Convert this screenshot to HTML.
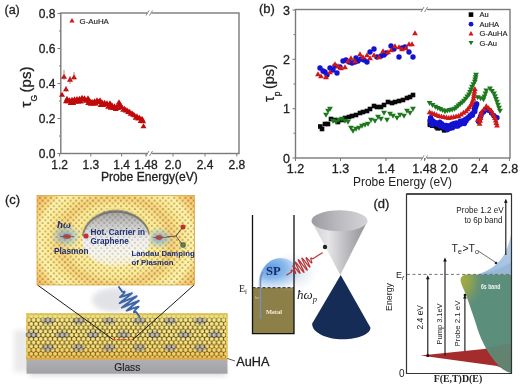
<!DOCTYPE html>
<html><head><meta charset="utf-8"><style>
html,body{margin:0;padding:0;background:#fff;width:520px;height:387px;overflow:hidden}
text.b{stroke:#222;stroke-width:0.3px}
text.s{stroke:#222;stroke-width:0.15px}
svg{display:block;font-family:"Liberation Sans", sans-serif;filter:blur(0.35px)}
</style></head><body>
<svg width="520" height="387" viewBox="0 0 520 387">
<defs>
<pattern id="slab" x="26.5" y="318.2" width="4.75" height="7.5" patternUnits="userSpaceOnUse">
<rect width="4.75" height="7.5" fill="#56420f"/>
<circle cx="2.375" cy="1.875" r="1.98" fill="#f8e88a"/><circle cx="0" cy="5.625" r="1.98" fill="#f8e88a"/><circle cx="4.75" cy="5.625" r="1.98" fill="#f8e88a"/>
</pattern>
<pattern id="slabg" x="26.5" y="318.2" width="4.75" height="7.5" patternUnits="userSpaceOnUse">
<rect width="4.75" height="7.5" fill="#3a3018"/>
<circle cx="2.375" cy="1.875" r="1.98" fill="#a4a8c4"/><circle cx="0" cy="5.625" r="1.98" fill="#a4a8c4"/><circle cx="4.75" cy="5.625" r="1.98" fill="#a4a8c4"/>
</pattern>
<linearGradient id="slabshade" x1="0" y1="0" x2="0" y2="1"><stop offset="0" stop-color="#f0f0a0" stop-opacity="0.3"/><stop offset="0.45" stop-color="#f0d060" stop-opacity="0"/><stop offset="1" stop-color="#e08a10" stop-opacity="0.4"/></linearGradient>
<linearGradient id="glassg" x1="0" y1="0" x2="0" y2="1"><stop offset="0" stop-color="#b0b0b4"/><stop offset="1" stop-color="#a2a2a6"/></linearGradient>
<filter id="blur2" x="-50%" y="-50%" width="200%" height="200%"><feGaussianBlur stdDeviation="2.5"/></filter>
<filter id="blur05" x="-50%" y="-50%" width="200%" height="200%"><feGaussianBlur stdDeviation="0.6"/></filter>
<filter id="blur1" x="-50%" y="-50%" width="200%" height="200%"><feGaussianBlur stdDeviation="1.2"/></filter>
<pattern id="hexi" x="37" y="195" width="5.6" height="5.6" patternUnits="userSpaceOnUse">
<g fill="#fffbd0" fill-opacity="0.35"><circle cx="2.8" cy="0" r="1.7"/><circle cx="0" cy="2.8" r="1.7"/><circle cx="5.6" cy="2.8" r="1.7"/><circle cx="2.8" cy="5.6" r="1.7"/></g>
<g fill="#7a5818" fill-opacity="0.75"><circle cx="0" cy="0" r="0.8"/><circle cx="5.6" cy="0" r="0.8"/><circle cx="0" cy="5.6" r="0.8"/><circle cx="5.6" cy="5.6" r="0.8"/><circle cx="2.8" cy="2.8" r="0.8"/></g>
</pattern>
<radialGradient id="rings" cx="116" cy="241" r="100" gradientUnits="userSpaceOnUse" gradientTransform="translate(116 241) scale(1 0.79) translate(-116 -241)">
<stop offset="0.3" stop-color="#fcec98"/>
<stop offset="0.45" stop-color="#f9e488"/>
<stop offset="0.56" stop-color="#f0c462"/>
<stop offset="0.66" stop-color="#f8e080"/>
<stop offset="0.77" stop-color="#fcf0a0"/>
<stop offset="0.84" stop-color="#f4cc68"/>
<stop offset="0.92" stop-color="#ecae4e"/>
<stop offset="1" stop-color="#e8a446"/>
</radialGradient>
<linearGradient id="hole" x1="0" y1="0" x2="0" y2="1">
<stop offset="0" stop-color="#8e8e96"/><stop offset="0.28" stop-color="#c2c4ca"/><stop offset="0.55" stop-color="#eef0f4"/><stop offset="0.82" stop-color="#f6f6f2"/><stop offset="1" stop-color="#f8f0c0"/>
</linearGradient>
<radialGradient id="glow"><stop offset="0" stop-color="#5a9ad8" stop-opacity="0.85"/><stop offset="1" stop-color="#8ac0e8" stop-opacity="0"/></radialGradient>
<radialGradient id="shadow" cx="0.5" cy="0.5" r="0.5"><stop offset="0" stop-color="#888" stop-opacity="0.55"/><stop offset="1" stop-color="#aaa" stop-opacity="0"/></radialGradient>
<linearGradient id="lshadow" x1="1" y1="0" x2="0" y2="0"><stop offset="0" stop-color="#b8b8b8"/><stop offset="1" stop-color="#fff" stop-opacity="0"/></linearGradient>
<clipPath id="insetclip"><rect x="37" y="195.5" width="157.5" height="89.5"/></clipPath>
<linearGradient id="cone1" x1="0" y1="0" x2="1" y2="0">
<stop offset="0" stop-color="#cfcfd3"/><stop offset="0.3" stop-color="#e6e6e8"/><stop offset="0.65" stop-color="#b8b8bc"/><stop offset="1" stop-color="#8c8c92"/></linearGradient>
<linearGradient id="cone1top" x1="0" y1="0" x2="1" y2="0">
<stop offset="0" stop-color="#9c9ca0"/><stop offset="0.5" stop-color="#bcbcc0"/><stop offset="1" stop-color="#d4d4d8"/></linearGradient>
<radialGradient id="spg" cx="0.3" cy="0.35" r="0.75"><stop offset="0" stop-color="#5a98e4"/><stop offset="0.45" stop-color="#8cbcec"/><stop offset="0.8" stop-color="#c4daf2" stop-opacity="0.7"/><stop offset="1" stop-color="#e0ecf8" stop-opacity="0"/></radialGradient>
<radialGradient id="spglow" cx="0.5" cy="0.5" r="0.5"><stop offset="0" stop-color="#b8c8dc" stop-opacity="0.7"/><stop offset="1" stop-color="#d0dcea" stop-opacity="0"/></radialGradient>
<linearGradient id="slabtop" x1="0" y1="0" x2="0" y2="1"><stop offset="0" stop-color="#f6e89a"/><stop offset="1" stop-color="#e8c860"/></linearGradient>
<linearGradient id="wshadow" x1="0" y1="0" x2="0" y2="1"><stop offset="0" stop-color="#ccd0d8" stop-opacity="0"/><stop offset="0.5" stop-color="#c6cad2" stop-opacity="0.8"/><stop offset="1" stop-color="#ccd0d8" stop-opacity="0"/></linearGradient>
<radialGradient id="gband" gradientUnits="userSpaceOnUse" cx="462" cy="280" r="30" gradientTransform="translate(462 280) scale(0.7 1) translate(-462 -280)"><stop offset="0" stop-color="#a4ac44"/><stop offset="0.35" stop-color="#94a44c"/><stop offset="0.75" stop-color="#6a9470"/><stop offset="1" stop-color="#5c8e7c"/></radialGradient>
<linearGradient id="bband" x1="0" y1="1" x2="0.3" y2="0"><stop offset="0" stop-color="#9cbce0"/><stop offset="1" stop-color="#b4cde8"/></linearGradient>
</defs>
<rect width="520" height="387" fill="#fff"/>
<text x="4.5" y="14" font-size="12.5" fill="#222" class="b">(a)</text>
<rect x="60.8" y="13" width="178.2" height="140.5" fill="none" stroke="#7a7a7a" stroke-width="1.4"/>
<rect x="147.5" y="11" width="4" height="4" fill="#fff"/>
<path d="M146,15.5L149,10.5M149.5,15.5L152.5,10.5" stroke="#7a7a7a" stroke-width="0.9"/>
<rect x="147.5" y="151.5" width="4" height="4" fill="#fff"/>
<path d="M146,156.0L149,151.0M149.5,156.0L152.5,151.0" stroke="#7a7a7a" stroke-width="0.9"/>
<text x="55.5" y="157.8" font-size="12" text-anchor="end" fill="#222" class="b">0.0</text>
<path d="M57.5,153.5H60.5" stroke="#7a7a7a" stroke-width="1"/>
<text x="55.5" y="122.8" font-size="12" text-anchor="end" fill="#222" class="b">0.2</text>
<path d="M57.5,118.5H60.5" stroke="#7a7a7a" stroke-width="1"/>
<text x="55.5" y="87.8" font-size="12" text-anchor="end" fill="#222" class="b">0.4</text>
<path d="M57.5,83.5H60.5" stroke="#7a7a7a" stroke-width="1"/>
<text x="55.5" y="52.8" font-size="12" text-anchor="end" fill="#222" class="b">0.6</text>
<path d="M57.5,48.5H60.5" stroke="#7a7a7a" stroke-width="1"/>
<text x="55.5" y="17.8" font-size="12" text-anchor="end" fill="#222" class="b">0.8</text>
<path d="M57.5,13.5H60.5" stroke="#7a7a7a" stroke-width="1"/>
<path d="M59,136H60.5" stroke="#7a7a7a" stroke-width="1"/>
<path d="M59,101H60.5" stroke="#7a7a7a" stroke-width="1"/>
<path d="M59,66H60.5" stroke="#7a7a7a" stroke-width="1"/>
<path d="M59,31H60.5" stroke="#7a7a7a" stroke-width="1"/>
<text x="59.6" y="168.6" font-size="12" text-anchor="middle" fill="#222" class="b">1.2</text>
<path d="M59.6,153.5V156.5" stroke="#7a7a7a" stroke-width="1"/>
<text x="90.8" y="168.6" font-size="12" text-anchor="middle" fill="#222" class="b">1.3</text>
<path d="M90.8,153.5V156.5" stroke="#7a7a7a" stroke-width="1"/>
<text x="121.6" y="168.6" font-size="12" text-anchor="middle" fill="#222" class="b">1.4</text>
<path d="M121.6,153.5V156.5" stroke="#7a7a7a" stroke-width="1"/>
<text x="146" y="168.6" font-size="12" text-anchor="middle" fill="#222" class="b">1.48</text>
<path d="M146,153.5V156.5" stroke="#7a7a7a" stroke-width="1"/>
<text x="173" y="168.6" font-size="12" text-anchor="middle" fill="#222" class="b">2.0</text>
<path d="M173,153.5V156.5" stroke="#7a7a7a" stroke-width="1"/>
<text x="205" y="168.6" font-size="12" text-anchor="middle" fill="#222" class="b">2.4</text>
<path d="M205,153.5V156.5" stroke="#7a7a7a" stroke-width="1"/>
<text x="236.8" y="168.6" font-size="12" text-anchor="middle" fill="#222" class="b">2.8</text>
<path d="M236.8,153.5V156.5" stroke="#7a7a7a" stroke-width="1"/>
<text x="101" y="181" font-size="12.1" fill="#222" class="b">Probe Energy(eV)</text>
<text transform="translate(31,107.5) rotate(-90)" font-size="15" fill="#222" class="b">τ<tspan font-size="8.5" dy="6">G</tspan><tspan dy="-6" dx="2.5">(ps)</tspan></text>
<path d="M69.4,22.4L74.6,22.4L72.0,18.0Z" fill="#d01818"/>
<text x="79.5" y="23.5" font-size="7.9" fill="#222" class="s">G-AuHA</text>
<path d="M61.0,78.8L67.0,78.8L64.0,73.7Z" fill="#c00a0a"/>
<path d="M67.0,81.7L73.0,81.7L70.0,76.6Z" fill="#c00a0a"/>
<path d="M71.0,79.2L77.0,79.2L74.0,74.2Z" fill="#c00a0a"/>
<path d="M63.0,91.2L69.0,91.2L66.0,86.2Z" fill="#c00a0a"/>
<path d="M59.0,96.8L65.0,96.8L62.0,91.7Z" fill="#c00a0a"/>
<path d="M64.0,100.8L70.0,100.8L67.0,95.7Z" fill="#c00a0a"/>
<path d="M66.5,102.2L72.5,102.2L69.5,97.2Z" fill="#c00a0a"/>
<path d="M69.0,101.8L75.0,101.8L72.0,96.7Z" fill="#c00a0a"/>
<path d="M71.5,101.2L77.5,101.2L74.5,96.2Z" fill="#c00a0a"/>
<path d="M74.0,101.0L80.0,101.0L77.0,95.9Z" fill="#c00a0a"/>
<path d="M76.5,100.8L82.5,100.8L79.5,95.7Z" fill="#c00a0a"/>
<path d="M79.0,99.8L85.0,99.8L82.0,94.7Z" fill="#c00a0a"/>
<path d="M81.5,100.2L87.5,100.2L84.5,95.2Z" fill="#c00a0a"/>
<path d="M84.0,102.2L90.0,102.2L87.0,97.2Z" fill="#c00a0a"/>
<path d="M86.5,102.8L92.5,102.8L89.5,97.7Z" fill="#c00a0a"/>
<path d="M89.0,103.8L95.0,103.8L92.0,98.7Z" fill="#c00a0a"/>
<path d="M91.5,103.2L97.5,103.2L94.5,98.2Z" fill="#c00a0a"/>
<path d="M94.0,102.2L100.0,102.2L97.0,97.2Z" fill="#c00a0a"/>
<path d="M96.5,103.8L102.5,103.8L99.5,98.7Z" fill="#c00a0a"/>
<path d="M99.0,104.2L105.0,104.2L102.0,99.2Z" fill="#c00a0a"/>
<path d="M101.5,104.8L107.5,104.8L104.5,99.7Z" fill="#c00a0a"/>
<path d="M104.0,105.2L110.0,105.2L107.0,100.2Z" fill="#c00a0a"/>
<path d="M106.5,106.2L112.5,106.2L109.5,101.2Z" fill="#c00a0a"/>
<path d="M109.0,107.2L115.0,107.2L112.0,102.2Z" fill="#c00a0a"/>
<path d="M111.5,108.2L117.5,108.2L114.5,103.2Z" fill="#c00a0a"/>
<path d="M114.0,108.2L120.0,108.2L117.0,103.2Z" fill="#c00a0a"/>
<path d="M116.5,106.2L122.5,106.2L119.5,101.2Z" fill="#c00a0a"/>
<path d="M119.0,109.2L125.0,109.2L122.0,104.2Z" fill="#c00a0a"/>
<path d="M121.5,110.8L127.5,110.8L124.5,105.7Z" fill="#c00a0a"/>
<path d="M124.0,112.2L130.0,112.2L127.0,107.2Z" fill="#c00a0a"/>
<path d="M126.5,113.8L132.5,113.8L129.5,108.7Z" fill="#c00a0a"/>
<path d="M129.0,115.2L135.0,115.2L132.0,110.2Z" fill="#c00a0a"/>
<path d="M131.5,117.2L137.5,117.2L134.5,112.2Z" fill="#c00a0a"/>
<path d="M134.0,118.2L140.0,118.2L137.0,113.2Z" fill="#c00a0a"/>
<path d="M136.5,119.8L142.5,119.8L139.5,114.7Z" fill="#c00a0a"/>
<path d="M139.0,120.8L145.0,120.8L142.0,115.7Z" fill="#c00a0a"/>
<path d="M77.0,102.8L83.0,102.8L80.0,97.7Z" fill="#c00a0a"/>
<path d="M92.0,105.2L98.0,105.2L95.0,100.2Z" fill="#c00a0a"/>
<path d="M107.0,105.2L113.0,105.2L110.0,100.2Z" fill="#c00a0a"/>
<path d="M116.0,104.2L122.0,104.2L119.0,99.2Z" fill="#c00a0a"/>
<path d="M140.5,128.2L146.5,128.2L143.5,123.2Z" fill="#c00a0a"/>
<path d="M63.0,103.2L69.0,103.2L66.0,98.2Z" fill="#c00a0a"/>
<path d="M85.0,100.2L91.0,100.2L88.0,95.2Z" fill="#c00a0a"/>
<path d="M97.0,102.2L103.0,102.2L100.0,97.2Z" fill="#c00a0a"/>
<path d="M65.2,103.2L71.2,103.2L68.2,98.1Z" fill="#c00a0a"/>
<path d="M67.7,104.9L73.7,104.9L70.7,99.8Z" fill="#c00a0a"/>
<path d="M70.2,105.1L76.2,105.1L73.2,100.0Z" fill="#c00a0a"/>
<path d="M72.7,103.7L78.7,103.7L75.7,98.6Z" fill="#c00a0a"/>
<path d="M75.2,103.5L81.2,103.5L78.2,98.4Z" fill="#c00a0a"/>
<path d="M77.7,103.4L83.7,103.4L80.7,98.3Z" fill="#c00a0a"/>
<path d="M80.2,101.6L86.2,101.6L83.2,96.5Z" fill="#c00a0a"/>
<path d="M82.7,102.8L88.7,102.8L85.7,97.7Z" fill="#c00a0a"/>
<path d="M85.2,105.0L91.2,105.0L88.2,99.9Z" fill="#c00a0a"/>
<path d="M87.7,105.8L93.7,105.8L90.7,100.7Z" fill="#c00a0a"/>
<path d="M90.2,105.4L96.2,105.4L93.2,100.3Z" fill="#c00a0a"/>
<path d="M92.7,105.4L98.7,105.4L95.7,100.3Z" fill="#c00a0a"/>
<path d="M95.2,103.9L101.2,103.9L98.2,98.8Z" fill="#c00a0a"/>
<path d="M97.7,106.9L103.7,106.9L100.7,101.8Z" fill="#c00a0a"/>
<path d="M100.2,107.1L106.2,107.1L103.2,102.0Z" fill="#c00a0a"/>
<path d="M102.7,106.3L108.7,106.3L105.7,101.2Z" fill="#c00a0a"/>
<path d="M105.2,108.7L111.2,108.7L108.2,103.6Z" fill="#c00a0a"/>
<path d="M107.7,109.7L113.7,109.7L110.7,104.6Z" fill="#c00a0a"/>
<path d="M110.2,110.1L116.2,110.1L113.2,105.0Z" fill="#c00a0a"/>
<path d="M112.7,111.0L118.7,111.0L115.7,105.9Z" fill="#c00a0a"/>
<path d="M115.2,110.1L121.2,110.1L118.2,105.0Z" fill="#c00a0a"/>
<path d="M117.7,107.8L123.7,107.8L120.7,102.7Z" fill="#c00a0a"/>
<path d="M120.2,111.8L126.2,111.8L123.2,106.7Z" fill="#c00a0a"/>
<path d="M122.7,112.4L128.7,112.4L125.7,107.3Z" fill="#c00a0a"/>
<path d="M125.2,114.1L131.2,114.1L128.2,109.0Z" fill="#c00a0a"/>
<path d="M127.7,115.7L133.7,115.7L130.7,110.6Z" fill="#c00a0a"/>
<path d="M130.2,116.8L136.2,116.8L133.2,111.7Z" fill="#c00a0a"/>
<path d="M132.7,119.7L138.7,119.7L135.7,114.6Z" fill="#c00a0a"/>
<path d="M135.2,120.6L141.2,120.6L138.2,115.5Z" fill="#c00a0a"/>
<path d="M137.7,122.9L143.7,122.9L140.7,117.8Z" fill="#c00a0a"/>
<path d="M140.2,123.3L146.2,123.3L143.2,118.2Z" fill="#c00a0a"/>
<path d="M64,70V80" stroke="#c04040" stroke-width="0.7"/>
<path d="M74,72V80" stroke="#c04040" stroke-width="0.7"/>
<path d="M70,76V84" stroke="#c04040" stroke-width="0.7"/>
<path d="M66,86V92" stroke="#c04040" stroke-width="0.7"/>
<text x="259" y="12.5" font-size="13" fill="#222" class="b">(b)</text>
<rect x="295.5" y="9.5" width="214.5" height="148.5" fill="none" stroke="#7a7a7a" stroke-width="1.4"/>
<rect x="422.5" y="7.5" width="4.5" height="4" fill="#fff"/>
<path d="M421,12.0L424,7.0M424.5,12.0L427.5,7.0" stroke="#7a7a7a" stroke-width="0.9"/>
<rect x="422.5" y="156" width="4.5" height="4" fill="#fff"/>
<path d="M421,160.5L424,155.5M424.5,160.5L427.5,155.5" stroke="#7a7a7a" stroke-width="0.9"/>
<text x="290" y="162.5" font-size="12.5" text-anchor="end" fill="#222" class="b">0</text>
<path d="M292.5,158H295.5" stroke="#7a7a7a" stroke-width="1"/>
<text x="290" y="113.2" font-size="12.5" text-anchor="end" fill="#222" class="b">1</text>
<path d="M292.5,108.7H295.5" stroke="#7a7a7a" stroke-width="1"/>
<text x="290" y="63.8" font-size="12.5" text-anchor="end" fill="#222" class="b">2</text>
<path d="M292.5,59.3H295.5" stroke="#7a7a7a" stroke-width="1"/>
<text x="290" y="14.5" font-size="12.5" text-anchor="end" fill="#222" class="b">3</text>
<path d="M292.5,10H295.5" stroke="#7a7a7a" stroke-width="1"/>
<path d="M293.5,133.3H295.5" stroke="#7a7a7a" stroke-width="1"/>
<path d="M293.5,84H295.5" stroke="#7a7a7a" stroke-width="1"/>
<path d="M293.5,34.6H295.5" stroke="#7a7a7a" stroke-width="1"/>
<text x="295.5" y="173" font-size="12.5" text-anchor="middle" fill="#222" class="b">1.2</text>
<path d="M295.5,158V161" stroke="#7a7a7a" stroke-width="1"/>
<text x="340.5" y="173" font-size="12.5" text-anchor="middle" fill="#222" class="b">1.3</text>
<path d="M340.5,158V161" stroke="#7a7a7a" stroke-width="1"/>
<text x="386" y="173" font-size="12.5" text-anchor="middle" fill="#222" class="b">1.4</text>
<path d="M386,158V161" stroke="#7a7a7a" stroke-width="1"/>
<text x="424.5" y="173" font-size="12.5" text-anchor="middle" fill="#222" class="b">1.48</text>
<path d="M424.5,158V161" stroke="#7a7a7a" stroke-width="1"/>
<text x="449" y="173" font-size="12.5" text-anchor="middle" fill="#222" class="b">2.0</text>
<path d="M449,158V161" stroke="#7a7a7a" stroke-width="1"/>
<text x="479.5" y="173" font-size="12.5" text-anchor="middle" fill="#222" class="b">2.4</text>
<path d="M479.5,158V161" stroke="#7a7a7a" stroke-width="1"/>
<text x="509.5" y="173" font-size="12.5" text-anchor="middle" fill="#222" class="b">2.8</text>
<path d="M509.5,158V161" stroke="#7a7a7a" stroke-width="1"/>
<text x="353" y="186" font-size="12.9" fill="#222" textLength="99" lengthAdjust="spacingAndGlyphs">Probe Energy (eV)</text>
<text transform="translate(273.7,102) rotate(-90)" font-size="14.5" fill="#222" class="b">τ<tspan font-size="8.5" dy="6">p</tspan><tspan dy="-6" dx="2.5">(ps)</tspan></text>
<rect x="468.7" y="12.3" width="4.6" height="4.6" fill="#000"/>
<circle cx="471.0" cy="24.2" r="2.4" fill="#1414d2"/>
<path d="M468.5,35.4L473.5,35.4L471.0,31.1Z" fill="#d01818"/>
<path d="M468.5,41.0L473.5,41.0L471.0,45.3Z" fill="#1a7a1a"/>
<text x="479.5" y="17.4" font-size="7.5" fill="#222" class="s">Au</text>
<text x="479.5" y="27.0" font-size="7.5" fill="#222" class="s">AuHA</text>
<text x="479.5" y="36.3" font-size="7.5" fill="#222" class="s">G-AuHA</text>
<text x="479.5" y="45.699999999999996" font-size="7.5" fill="#222" class="s">G-Au</text>
<rect x="427.7" y="121.7" width="4.6" height="4.6" fill="#080808"/>
<rect x="430.7" y="122.7" width="4.6" height="4.6" fill="#080808"/>
<rect x="433.7" y="123.7" width="4.6" height="4.6" fill="#080808"/>
<rect x="436.4" y="124.7" width="4.6" height="4.6" fill="#080808"/>
<rect x="439.0" y="125.7" width="4.6" height="4.6" fill="#080808"/>
<rect x="441.7" y="126.7" width="4.6" height="4.6" fill="#080808"/>
<rect x="444.4" y="126.4" width="4.6" height="4.6" fill="#080808"/>
<rect x="447.0" y="126.0" width="4.6" height="4.6" fill="#080808"/>
<rect x="449.7" y="125.7" width="4.6" height="4.6" fill="#080808"/>
<rect x="427.7" y="122.5" width="4.6" height="4.6" fill="#080808"/>
<rect x="429.9" y="123.4" width="4.6" height="4.6" fill="#080808"/>
<rect x="434.3" y="124.8" width="4.6" height="4.6" fill="#080808"/>
<rect x="435.4" y="126.0" width="4.6" height="4.6" fill="#080808"/>
<rect x="438.2" y="125.2" width="4.6" height="4.6" fill="#080808"/>
<rect x="441.9" y="128.0" width="4.6" height="4.6" fill="#080808"/>
<rect x="444.0" y="127.6" width="4.6" height="4.6" fill="#080808"/>
<rect x="447.1" y="125.5" width="4.6" height="4.6" fill="#080808"/>
<rect x="449.3" y="124.7" width="4.6" height="4.6" fill="#080808"/>
<rect x="318.0" y="124.2" width="4.6" height="4.6" fill="#080808"/>
<rect x="319.7" y="126.7" width="4.6" height="4.6" fill="#080808"/>
<rect x="322.7" y="121.7" width="4.6" height="4.6" fill="#080808"/>
<rect x="325.7" y="121.7" width="4.6" height="4.6" fill="#080808"/>
<rect x="328.7" y="116.7" width="4.6" height="4.6" fill="#080808"/>
<rect x="332.7" y="117.7" width="4.6" height="4.6" fill="#080808"/>
<rect x="335.7" y="119.7" width="4.6" height="4.6" fill="#080808"/>
<rect x="339.7" y="117.7" width="4.6" height="4.6" fill="#080808"/>
<rect x="342.7" y="115.7" width="4.6" height="4.6" fill="#080808"/>
<rect x="346.7" y="114.7" width="4.6" height="4.6" fill="#080808"/>
<rect x="349.7" y="113.7" width="4.6" height="4.6" fill="#080808"/>
<rect x="353.7" y="112.7" width="4.6" height="4.6" fill="#080808"/>
<rect x="357.7" y="110.7" width="4.6" height="4.6" fill="#080808"/>
<rect x="360.7" y="109.7" width="4.6" height="4.6" fill="#080808"/>
<rect x="364.7" y="108.7" width="4.6" height="4.6" fill="#080808"/>
<rect x="367.7" y="106.7" width="4.6" height="4.6" fill="#080808"/>
<rect x="371.7" y="103.7" width="4.6" height="4.6" fill="#080808"/>
<rect x="374.7" y="104.7" width="4.6" height="4.6" fill="#080808"/>
<rect x="378.7" y="104.7" width="4.6" height="4.6" fill="#080808"/>
<rect x="381.7" y="102.7" width="4.6" height="4.6" fill="#080808"/>
<rect x="385.7" y="99.7" width="4.6" height="4.6" fill="#080808"/>
<rect x="389.7" y="100.7" width="4.6" height="4.6" fill="#080808"/>
<rect x="392.7" y="99.7" width="4.6" height="4.6" fill="#080808"/>
<rect x="396.7" y="98.7" width="4.6" height="4.6" fill="#080808"/>
<rect x="400.7" y="97.7" width="4.6" height="4.6" fill="#080808"/>
<rect x="404.7" y="95.7" width="4.6" height="4.6" fill="#080808"/>
<rect x="407.7" y="94.7" width="4.6" height="4.6" fill="#080808"/>
<rect x="410.7" y="92.7" width="4.6" height="4.6" fill="#080808"/>
<circle cx="430.6" cy="117.7" r="2.7" fill="#1212d0"/>
<circle cx="431.1" cy="120.6" r="2.7" fill="#1212d0"/>
<circle cx="431.5" cy="123.5" r="2.7" fill="#1212d0"/>
<circle cx="434.0" cy="123.5" r="2.7" fill="#1212d0"/>
<circle cx="436.5" cy="123.5" r="2.7" fill="#1212d0"/>
<circle cx="439.0" cy="123.5" r="2.7" fill="#1212d0"/>
<circle cx="441.7" cy="124.4" r="2.7" fill="#1212d0"/>
<circle cx="444.3" cy="125.4" r="2.7" fill="#1212d0"/>
<circle cx="447.0" cy="126.3" r="2.7" fill="#1212d0"/>
<circle cx="449.3" cy="125.7" r="2.7" fill="#1212d0"/>
<circle cx="451.6" cy="125.2" r="2.7" fill="#1212d0"/>
<circle cx="453.9" cy="124.6" r="2.7" fill="#1212d0"/>
<circle cx="456.2" cy="124.1" r="2.7" fill="#1212d0"/>
<circle cx="458.5" cy="123.5" r="2.7" fill="#1212d0"/>
<circle cx="460.9" cy="122.0" r="2.7" fill="#1212d0"/>
<circle cx="463.2" cy="120.6" r="2.7" fill="#1212d0"/>
<circle cx="465.6" cy="119.2" r="2.7" fill="#1212d0"/>
<circle cx="468.0" cy="117.7" r="2.7" fill="#1212d0"/>
<circle cx="470.0" cy="115.8" r="2.7" fill="#1212d0"/>
<circle cx="472.0" cy="113.9" r="2.7" fill="#1212d0"/>
<circle cx="474.0" cy="112.0" r="2.7" fill="#1212d0"/>
<circle cx="474.9" cy="109.3" r="2.7" fill="#1212d0"/>
<circle cx="475.8" cy="106.7" r="2.7" fill="#1212d0"/>
<circle cx="476.7" cy="104.0" r="2.7" fill="#1212d0"/>
<circle cx="431.0" cy="120.0" r="2.7" fill="#1212d0"/>
<circle cx="433.2" cy="121.5" r="2.7" fill="#1212d0"/>
<circle cx="435.5" cy="123.0" r="2.7" fill="#1212d0"/>
<circle cx="437.8" cy="124.5" r="2.7" fill="#1212d0"/>
<circle cx="440.0" cy="126.0" r="2.7" fill="#1212d0"/>
<circle cx="443.5" cy="127.2" r="2.7" fill="#1212d0"/>
<circle cx="447.0" cy="128.5" r="2.7" fill="#1212d0"/>
<circle cx="450.0" cy="127.7" r="2.7" fill="#1212d0"/>
<circle cx="453.0" cy="126.8" r="2.7" fill="#1212d0"/>
<circle cx="456.0" cy="126.0" r="2.7" fill="#1212d0"/>
<circle cx="458.5" cy="124.8" r="2.7" fill="#1212d0"/>
<circle cx="461.0" cy="123.5" r="2.7" fill="#1212d0"/>
<circle cx="463.5" cy="122.2" r="2.7" fill="#1212d0"/>
<circle cx="466.0" cy="121.0" r="2.7" fill="#1212d0"/>
<circle cx="430.8" cy="118.4" r="2.7" fill="#1212d0"/>
<circle cx="431.6" cy="121.9" r="2.7" fill="#1212d0"/>
<circle cx="432.0" cy="124.8" r="2.7" fill="#1212d0"/>
<circle cx="433.1" cy="123.4" r="2.7" fill="#1212d0"/>
<circle cx="437.4" cy="123.9" r="2.7" fill="#1212d0"/>
<circle cx="439.8" cy="122.3" r="2.7" fill="#1212d0"/>
<circle cx="441.6" cy="123.7" r="2.7" fill="#1212d0"/>
<circle cx="444.4" cy="125.6" r="2.7" fill="#1212d0"/>
<circle cx="446.0" cy="125.5" r="2.7" fill="#1212d0"/>
<circle cx="448.9" cy="127.0" r="2.7" fill="#1212d0"/>
<circle cx="452.1" cy="124.2" r="2.7" fill="#1212d0"/>
<circle cx="454.5" cy="123.5" r="2.7" fill="#1212d0"/>
<circle cx="456.4" cy="122.9" r="2.7" fill="#1212d0"/>
<circle cx="457.5" cy="124.6" r="2.7" fill="#1212d0"/>
<circle cx="460.3" cy="121.2" r="2.7" fill="#1212d0"/>
<circle cx="464.2" cy="121.7" r="2.7" fill="#1212d0"/>
<circle cx="465.2" cy="120.5" r="2.7" fill="#1212d0"/>
<circle cx="468.1" cy="118.2" r="2.7" fill="#1212d0"/>
<circle cx="469.4" cy="117.1" r="2.7" fill="#1212d0"/>
<circle cx="472.4" cy="115.3" r="2.7" fill="#1212d0"/>
<circle cx="474.8" cy="111.4" r="2.7" fill="#1212d0"/>
<circle cx="474.6" cy="108.3" r="2.7" fill="#1212d0"/>
<circle cx="475.1" cy="105.4" r="2.7" fill="#1212d0"/>
<circle cx="476.3" cy="104.3" r="2.7" fill="#1212d0"/>
<circle cx="430.0" cy="120.5" r="2.7" fill="#1212d0"/>
<circle cx="432.9" cy="120.9" r="2.7" fill="#1212d0"/>
<circle cx="436.1" cy="122.9" r="2.7" fill="#1212d0"/>
<circle cx="437.4" cy="124.4" r="2.7" fill="#1212d0"/>
<circle cx="440.4" cy="124.7" r="2.7" fill="#1212d0"/>
<circle cx="444.5" cy="125.8" r="2.7" fill="#1212d0"/>
<circle cx="447.5" cy="129.5" r="2.7" fill="#1212d0"/>
<circle cx="449.0" cy="128.5" r="2.7" fill="#1212d0"/>
<circle cx="452.7" cy="127.1" r="2.7" fill="#1212d0"/>
<circle cx="455.0" cy="124.6" r="2.7" fill="#1212d0"/>
<circle cx="457.9" cy="126.1" r="2.7" fill="#1212d0"/>
<circle cx="460.4" cy="124.3" r="2.7" fill="#1212d0"/>
<circle cx="464.4" cy="123.6" r="2.7" fill="#1212d0"/>
<circle cx="465.7" cy="120.6" r="2.7" fill="#1212d0"/>
<circle cx="478.6" cy="121.5" r="2.7" fill="#1212d0"/>
<circle cx="479.6" cy="118.9" r="2.7" fill="#1212d0"/>
<circle cx="480.5" cy="116.4" r="2.7" fill="#1212d0"/>
<circle cx="481.5" cy="113.8" r="2.7" fill="#1212d0"/>
<circle cx="483.4" cy="111.9" r="2.7" fill="#1212d0"/>
<circle cx="485.4" cy="110.0" r="2.7" fill="#1212d0"/>
<circle cx="489.0" cy="110.4" r="2.7" fill="#1212d0"/>
<circle cx="491.5" cy="113.1" r="2.7" fill="#1212d0"/>
<circle cx="494.0" cy="115.8" r="2.7" fill="#1212d0"/>
<circle cx="497.0" cy="117.7" r="2.7" fill="#1212d0"/>
<circle cx="320.0" cy="68.0" r="2.7" fill="#1212d0"/>
<circle cx="323.0" cy="71.0" r="2.7" fill="#1212d0"/>
<circle cx="327.0" cy="75.0" r="2.7" fill="#1212d0"/>
<circle cx="330.0" cy="68.0" r="2.7" fill="#1212d0"/>
<circle cx="333.0" cy="70.0" r="2.7" fill="#1212d0"/>
<circle cx="337.0" cy="73.0" r="2.7" fill="#1212d0"/>
<circle cx="340.0" cy="67.0" r="2.7" fill="#1212d0"/>
<circle cx="343.0" cy="61.0" r="2.7" fill="#1212d0"/>
<circle cx="346.0" cy="60.0" r="2.7" fill="#1212d0"/>
<circle cx="349.0" cy="62.0" r="2.7" fill="#1212d0"/>
<circle cx="352.0" cy="63.0" r="2.7" fill="#1212d0"/>
<circle cx="355.0" cy="62.0" r="2.7" fill="#1212d0"/>
<circle cx="358.0" cy="61.0" r="2.7" fill="#1212d0"/>
<circle cx="361.0" cy="59.0" r="2.7" fill="#1212d0"/>
<circle cx="364.0" cy="60.0" r="2.7" fill="#1212d0"/>
<circle cx="367.0" cy="62.0" r="2.7" fill="#1212d0"/>
<circle cx="370.0" cy="52.0" r="2.7" fill="#1212d0"/>
<circle cx="374.0" cy="49.0" r="2.7" fill="#1212d0"/>
<circle cx="377.0" cy="57.0" r="2.7" fill="#1212d0"/>
<circle cx="381.0" cy="56.0" r="2.7" fill="#1212d0"/>
<circle cx="384.0" cy="55.0" r="2.7" fill="#1212d0"/>
<circle cx="386.0" cy="53.0" r="2.7" fill="#1212d0"/>
<circle cx="391.0" cy="46.0" r="2.7" fill="#1212d0"/>
<circle cx="394.0" cy="49.0" r="2.7" fill="#1212d0"/>
<circle cx="399.0" cy="57.0" r="2.7" fill="#1212d0"/>
<circle cx="402.0" cy="48.0" r="2.7" fill="#1212d0"/>
<circle cx="405.0" cy="47.0" r="2.7" fill="#1212d0"/>
<circle cx="409.0" cy="52.0" r="2.7" fill="#1212d0"/>
<circle cx="413.0" cy="57.0" r="2.7" fill="#1212d0"/>
<circle cx="325.0" cy="72.0" r="2.7" fill="#1212d0"/>
<circle cx="335.0" cy="66.0" r="2.7" fill="#1212d0"/>
<circle cx="356.0" cy="58.0" r="2.7" fill="#1212d0"/>
<path d="M426.7,114.2L432.5,114.2L429.6,109.2Z" fill="#d01818"/>
<path d="M429.1,115.1L434.9,115.1L432.0,110.2Z" fill="#d01818"/>
<path d="M431.4,116.1L437.2,116.1L434.3,111.1Z" fill="#d01818"/>
<path d="M433.8,117.0L439.5,117.0L436.6,112.1Z" fill="#d01818"/>
<path d="M436.1,118.0L441.9,118.0L439.0,113.0Z" fill="#d01818"/>
<path d="M438.6,118.5L444.3,118.5L441.4,113.5Z" fill="#d01818"/>
<path d="M441.0,118.9L446.8,118.9L443.9,114.0Z" fill="#d01818"/>
<path d="M443.5,119.4L449.2,119.4L446.4,114.5Z" fill="#d01818"/>
<path d="M445.9,119.9L451.7,119.9L448.8,114.9Z" fill="#d01818"/>
<path d="M448.3,119.4L454.1,119.4L451.2,114.5Z" fill="#d01818"/>
<path d="M450.8,118.9L456.5,118.9L453.6,114.0Z" fill="#d01818"/>
<path d="M453.2,118.5L459.0,118.5L456.1,113.5Z" fill="#d01818"/>
<path d="M455.6,118.0L461.4,118.0L458.5,113.0Z" fill="#d01818"/>
<path d="M458.1,116.4L463.9,116.4L461.0,111.4Z" fill="#d01818"/>
<path d="M460.6,114.8L466.4,114.8L463.5,109.8Z" fill="#d01818"/>
<path d="M463.1,113.2L468.9,113.2L466.0,108.2Z" fill="#d01818"/>
<path d="M464.8,111.2L470.6,111.2L467.7,106.2Z" fill="#d01818"/>
<path d="M466.4,109.2L472.2,109.2L469.3,104.2Z" fill="#d01818"/>
<path d="M468.1,107.2L473.9,107.2L471.0,102.2Z" fill="#d01818"/>
<path d="M468.9,105.0L474.7,105.0L471.8,100.1Z" fill="#d01818"/>
<path d="M469.8,102.8L475.6,102.8L472.7,97.9Z" fill="#d01818"/>
<path d="M470.6,100.7L476.4,100.7L473.5,95.7Z" fill="#d01818"/>
<path d="M470.9,98.2L476.7,98.2L473.8,93.3Z" fill="#d01818"/>
<path d="M471.2,95.8L477.0,95.8L474.1,90.9Z" fill="#d01818"/>
<path d="M471.6,93.4L477.4,93.4L474.5,88.5Z" fill="#d01818"/>
<path d="M471.9,91.0L477.7,91.0L474.8,86.0Z" fill="#d01818"/>
<path d="M474.8,121.8L480.6,121.8L477.7,116.8Z" fill="#d01818"/>
<path d="M476.7,125.7L482.5,125.7L479.6,120.7Z" fill="#d01818"/>
<path d="M477.2,122.8L483.0,122.8L480.1,117.9Z" fill="#d01818"/>
<path d="M477.7,119.9L483.4,119.9L480.6,115.0Z" fill="#d01818"/>
<path d="M478.1,117.0L483.9,117.0L481.0,112.1Z" fill="#d01818"/>
<path d="M478.6,114.2L484.4,114.2L481.5,109.2Z" fill="#d01818"/>
<path d="M481.0,111.2L486.8,111.2L483.9,106.2Z" fill="#d01818"/>
<path d="M483.4,108.2L489.2,108.2L486.3,103.2Z" fill="#d01818"/>
<path d="M485.8,110.2L491.5,110.2L488.6,105.2Z" fill="#d01818"/>
<path d="M488.1,112.2L493.9,112.2L491.0,107.2Z" fill="#d01818"/>
<path d="M489.4,114.7L495.2,114.7L492.3,109.8Z" fill="#d01818"/>
<path d="M490.8,117.3L496.6,117.3L493.7,112.4Z" fill="#d01818"/>
<path d="M492.1,119.9L497.9,119.9L495.0,114.9Z" fill="#d01818"/>
<path d="M492.8,122.4L498.6,122.4L495.7,117.5Z" fill="#d01818"/>
<path d="M493.4,125.0L499.2,125.0L496.3,120.1Z" fill="#d01818"/>
<path d="M494.1,127.6L499.9,127.6L497.0,122.6Z" fill="#d01818"/>
<path d="M315.1,76.2L320.9,76.2L318.0,71.2Z" fill="#d01818"/>
<path d="M318.1,78.2L323.9,78.2L321.0,73.2Z" fill="#d01818"/>
<path d="M323.1,79.2L328.9,79.2L326.0,74.2Z" fill="#d01818"/>
<path d="M327.1,74.2L332.9,74.2L330.0,69.2Z" fill="#d01818"/>
<path d="M332.1,66.2L337.9,66.2L335.0,61.2Z" fill="#d01818"/>
<path d="M335.1,68.2L340.9,68.2L338.0,63.2Z" fill="#d01818"/>
<path d="M338.1,70.2L343.9,70.2L341.0,65.2Z" fill="#d01818"/>
<path d="M342.1,69.2L347.9,69.2L345.0,64.2Z" fill="#d01818"/>
<path d="M345.1,63.2L350.9,63.2L348.0,58.2Z" fill="#d01818"/>
<path d="M348.1,60.2L353.9,60.2L351.0,55.2Z" fill="#d01818"/>
<path d="M352.1,63.2L357.9,63.2L355.0,58.2Z" fill="#d01818"/>
<path d="M357.1,56.2L362.9,56.2L360.0,51.2Z" fill="#d01818"/>
<path d="M360.1,59.2L365.9,59.2L363.0,54.2Z" fill="#d01818"/>
<path d="M364.1,57.2L369.9,57.2L367.0,52.2Z" fill="#d01818"/>
<path d="M367.1,60.2L372.9,60.2L370.0,55.2Z" fill="#d01818"/>
<path d="M371.1,57.2L376.9,57.2L374.0,52.2Z" fill="#d01818"/>
<path d="M376.1,59.2L381.9,59.2L379.0,54.2Z" fill="#d01818"/>
<path d="M380.1,53.2L385.9,53.2L383.0,48.2Z" fill="#d01818"/>
<path d="M385.1,54.2L390.9,54.2L388.0,49.2Z" fill="#d01818"/>
<path d="M388.1,52.2L393.9,52.2L391.0,47.2Z" fill="#d01818"/>
<path d="M392.1,48.2L397.9,48.2L395.0,43.2Z" fill="#d01818"/>
<path d="M396.1,49.2L401.9,49.2L399.0,44.2Z" fill="#d01818"/>
<path d="M399.1,51.2L404.9,51.2L402.0,46.2Z" fill="#d01818"/>
<path d="M403.1,50.2L408.9,50.2L406.0,45.2Z" fill="#d01818"/>
<path d="M406.1,46.2L411.9,46.2L409.0,41.2Z" fill="#d01818"/>
<path d="M409.1,46.2L414.9,46.2L412.0,41.2Z" fill="#d01818"/>
<path d="M412.1,35.2L417.9,35.2L415.0,30.2Z" fill="#d01818"/>
<path d="M426.7,101.1L432.5,101.1L429.6,106.1Z" fill="#1d781d"/>
<path d="M429.6,103.0L435.4,103.0L432.5,107.9Z" fill="#1d781d"/>
<path d="M432.5,104.8L438.3,104.8L435.4,109.8Z" fill="#1d781d"/>
<path d="M434.9,106.0L440.7,106.0L437.8,110.9Z" fill="#1d781d"/>
<path d="M437.3,107.1L443.1,107.1L440.2,112.0Z" fill="#1d781d"/>
<path d="M439.7,108.2L445.5,108.2L442.6,113.1Z" fill="#1d781d"/>
<path d="M442.1,109.3L447.9,109.3L445.0,114.3Z" fill="#1d781d"/>
<path d="M444.5,108.7L450.3,108.7L447.4,113.6Z" fill="#1d781d"/>
<path d="M446.9,108.1L452.7,108.1L449.8,113.0Z" fill="#1d781d"/>
<path d="M449.3,107.5L455.1,107.5L452.2,112.4Z" fill="#1d781d"/>
<path d="M451.7,106.8L457.5,106.8L454.6,111.8Z" fill="#1d781d"/>
<path d="M453.6,105.2L459.4,105.2L456.5,110.2Z" fill="#1d781d"/>
<path d="M455.5,103.6L461.3,103.6L458.4,108.6Z" fill="#1d781d"/>
<path d="M457.3,102.0L463.1,102.0L460.2,107.0Z" fill="#1d781d"/>
<path d="M459.2,100.4L465.0,100.4L462.1,105.4Z" fill="#1d781d"/>
<path d="M461.1,98.8L466.9,98.8L464.0,103.8Z" fill="#1d781d"/>
<path d="M462.8,96.7L468.6,96.7L465.7,101.6Z" fill="#1d781d"/>
<path d="M464.4,94.6L470.2,94.6L467.3,99.5Z" fill="#1d781d"/>
<path d="M466.1,92.4L471.9,92.4L469.0,97.4Z" fill="#1d781d"/>
<path d="M467.1,89.9L472.9,89.9L470.0,94.8Z" fill="#1d781d"/>
<path d="M468.1,87.4L473.9,87.4L471.0,92.3Z" fill="#1d781d"/>
<path d="M469.1,84.8L474.9,84.8L472.0,89.8Z" fill="#1d781d"/>
<path d="M470.5,82.3L476.3,82.3L473.4,87.3Z" fill="#1d781d"/>
<path d="M471.9,79.8L477.7,79.8L474.8,84.8Z" fill="#1d781d"/>
<path d="M472.3,77.5L478.1,77.5L475.2,82.4Z" fill="#1d781d"/>
<path d="M472.7,75.2L478.5,75.2L475.6,80.1Z" fill="#1d781d"/>
<path d="M473.1,72.8L478.9,72.8L476.0,77.8Z" fill="#1d781d"/>
<path d="M474.8,95.3L480.6,95.3L477.7,100.3Z" fill="#1d781d"/>
<path d="M477.7,96.3L483.5,96.3L480.6,101.2Z" fill="#1d781d"/>
<path d="M480.6,97.2L486.4,97.2L483.5,102.2Z" fill="#1d781d"/>
<path d="M481.5,94.4L487.3,94.4L484.4,99.3Z" fill="#1d781d"/>
<path d="M482.5,91.5L488.3,91.5L485.4,96.4Z" fill="#1d781d"/>
<path d="M483.4,88.6L489.2,88.6L486.3,93.6Z" fill="#1d781d"/>
<path d="M487.1,86.6L492.9,86.6L490.0,91.6Z" fill="#1d781d"/>
<path d="M489.1,89.0L494.9,89.0L492.0,94.0Z" fill="#1d781d"/>
<path d="M491.1,91.4L496.9,91.4L494.0,96.4Z" fill="#1d781d"/>
<path d="M492.1,94.2L497.9,94.2L495.0,99.2Z" fill="#1d781d"/>
<path d="M493.1,97.0L498.9,97.0L496.0,102.0Z" fill="#1d781d"/>
<path d="M494.1,99.8L499.9,99.8L497.0,104.8Z" fill="#1d781d"/>
<path d="M495.1,102.8L500.9,102.8L498.0,107.8Z" fill="#1d781d"/>
<path d="M496.1,105.8L501.9,105.8L499.0,110.8Z" fill="#1d781d"/>
<path d="M497.1,108.8L502.9,108.8L500.0,113.8Z" fill="#1d781d"/>
<path d="M323.1,112.8L328.9,112.8L326.0,117.8Z" fill="#1d781d"/>
<path d="M325.1,108.8L330.9,108.8L328.0,113.8Z" fill="#1d781d"/>
<path d="M327.1,106.8L332.9,106.8L330.0,111.8Z" fill="#1d781d"/>
<path d="M330.1,118.8L335.9,118.8L333.0,123.8Z" fill="#1d781d"/>
<path d="M333.1,119.8L338.9,119.8L336.0,124.8Z" fill="#1d781d"/>
<path d="M336.1,117.8L341.9,117.8L339.0,122.8Z" fill="#1d781d"/>
<path d="M339.1,116.8L344.9,116.8L342.0,121.8Z" fill="#1d781d"/>
<path d="M342.1,118.8L347.9,118.8L345.0,123.8Z" fill="#1d781d"/>
<path d="M345.1,119.8L350.9,119.8L348.0,124.8Z" fill="#1d781d"/>
<path d="M348.1,125.8L353.9,125.8L351.0,130.8Z" fill="#1d781d"/>
<path d="M350.1,128.8L355.9,128.8L353.0,133.8Z" fill="#1d781d"/>
<path d="M353.1,126.8L358.9,126.8L356.0,131.8Z" fill="#1d781d"/>
<path d="M356.1,125.8L361.9,125.8L359.0,130.8Z" fill="#1d781d"/>
<path d="M359.1,123.8L364.9,123.8L362.0,128.8Z" fill="#1d781d"/>
<path d="M362.1,122.8L367.9,122.8L365.0,127.8Z" fill="#1d781d"/>
<path d="M365.1,121.8L370.9,121.8L368.0,126.8Z" fill="#1d781d"/>
<path d="M368.1,117.8L373.9,117.8L371.0,122.8Z" fill="#1d781d"/>
<path d="M372.1,118.8L377.9,118.8L375.0,123.8Z" fill="#1d781d"/>
<path d="M375.1,114.8L380.9,114.8L378.0,119.8Z" fill="#1d781d"/>
<path d="M378.1,116.8L383.9,116.8L381.0,121.8Z" fill="#1d781d"/>
<path d="M381.1,110.8L386.9,110.8L384.0,115.8Z" fill="#1d781d"/>
<path d="M384.1,117.8L389.9,117.8L387.0,122.8Z" fill="#1d781d"/>
<path d="M387.1,111.8L392.9,111.8L390.0,116.8Z" fill="#1d781d"/>
<path d="M390.1,113.8L395.9,113.8L393.0,118.8Z" fill="#1d781d"/>
<path d="M394.1,115.8L399.9,115.8L397.0,120.8Z" fill="#1d781d"/>
<path d="M397.1,112.8L402.9,112.8L400.0,117.8Z" fill="#1d781d"/>
<path d="M401.1,113.8L406.9,113.8L404.0,118.8Z" fill="#1d781d"/>
<path d="M404.1,108.8L409.9,108.8L407.0,113.8Z" fill="#1d781d"/>
<path d="M407.1,110.8L412.9,110.8L410.0,115.8Z" fill="#1d781d"/>
<path d="M410.1,106.8L415.9,106.8L413.0,111.8Z" fill="#1d781d"/>
<text x="5" y="203.5" font-size="13" fill="#222" class="b">(c)</text>
<rect x="14" y="330" width="18" height="42" fill="#c4c4c8" opacity="0.35" filter="url(#blur2)"/>
<rect x="30" y="368" width="196" height="8" fill="#c8c8cc" opacity="0.6" filter="url(#blur2)"/>
<rect x="26.5" y="359.3" width="201" height="14.4" fill="url(#glassg)"/>
<text x="127.3" y="371.3" font-size="10.2" text-anchor="middle" fill="#222" class="s">Glass</text>
<rect x="26.5" y="313.5" width="201" height="45.8" fill="url(#slab)"/>
<rect x="26.5" y="313.5" width="201" height="45.8" fill="url(#slabshade)"/>
<rect x="26.5" y="313.5" width="201" height="4.2" fill="#ecdc78" opacity="0.75"/>
<rect x="26.5" y="313.5" width="201" height="1.2" fill="#e0b848"/>
<rect x="26.5" y="313.5" width="1.6" height="44.5" fill="#e8c050"/>
<rect x="225.9" y="313.5" width="1.6" height="44.5" fill="#e8c858"/>
<rect x="26.5" y="357.8" width="201" height="1.5" fill="#e0a838"/>
<ellipse cx="48.0" cy="321" rx="6.5" ry="3.6" fill="url(#slabg)" opacity="0.65"/>
<ellipse cx="78.5" cy="321" rx="6.5" ry="3.6" fill="url(#slabg)" opacity="0.65"/>
<ellipse cx="109.0" cy="321" rx="6.5" ry="3.6" fill="url(#slabg)" opacity="0.65"/>
<ellipse cx="139.5" cy="321" rx="6.5" ry="3.6" fill="url(#slabg)" opacity="0.65"/>
<ellipse cx="170.0" cy="321" rx="6.5" ry="3.6" fill="url(#slabg)" opacity="0.65"/>
<ellipse cx="200.5" cy="321" rx="6.5" ry="3.6" fill="url(#slabg)" opacity="0.65"/>
<ellipse cx="32.0" cy="334.6" rx="6.5" ry="3.6" fill="url(#slabg)" opacity="0.65"/>
<ellipse cx="62.5" cy="334.6" rx="6.5" ry="3.6" fill="url(#slabg)" opacity="0.65"/>
<ellipse cx="93.0" cy="334.6" rx="6.5" ry="3.6" fill="url(#slabg)" opacity="0.65"/>
<ellipse cx="123.5" cy="334.6" rx="6.5" ry="3.6" fill="url(#slabg)" opacity="0.65"/>
<ellipse cx="154.0" cy="334.6" rx="6.5" ry="3.6" fill="url(#slabg)" opacity="0.65"/>
<ellipse cx="184.5" cy="334.6" rx="6.5" ry="3.6" fill="url(#slabg)" opacity="0.65"/>
<ellipse cx="215.0" cy="334.6" rx="6.5" ry="3.6" fill="url(#slabg)" opacity="0.65"/>
<ellipse cx="48.0" cy="347.8" rx="6.5" ry="3.6" fill="url(#slabg)" opacity="0.65"/>
<ellipse cx="78.5" cy="347.8" rx="6.5" ry="3.6" fill="url(#slabg)" opacity="0.65"/>
<ellipse cx="109.0" cy="347.8" rx="6.5" ry="3.6" fill="url(#slabg)" opacity="0.65"/>
<ellipse cx="139.5" cy="347.8" rx="6.5" ry="3.6" fill="url(#slabg)" opacity="0.65"/>
<ellipse cx="170.0" cy="347.8" rx="6.5" ry="3.6" fill="url(#slabg)" opacity="0.65"/>
<ellipse cx="200.5" cy="347.8" rx="6.5" ry="3.6" fill="url(#slabg)" opacity="0.65"/>
<path d="M227.5,358.5L235,361" stroke="#333" stroke-width="0.8"/>
<text x="236.3" y="365.5" font-size="12.7" fill="#1a1a1a" class="b">AuHA</text>
<ellipse cx="114" cy="300" rx="22" ry="12" fill="#cdd0d6" opacity="0.6" filter="url(#blur2)"/>
<polyline points="118.50,286.40 118.59,286.53 118.68,286.66 118.77,286.79 118.86,286.92 118.95,287.05 119.04,287.18 119.13,287.31 119.22,287.44 119.31,287.57 119.40,287.70 119.49,287.83 119.58,287.95 119.66,288.08 119.75,288.21 119.84,288.34 119.93,288.47 120.02,288.60 120.11,288.73 120.20,288.86 120.29,288.99 120.38,289.12 120.47,289.25 120.56,289.38 120.65,289.51 120.74,289.64 120.83,289.77 120.92,289.90 121.01,290.03 121.10,290.16 121.19,290.29 121.28,290.42 121.37,290.55 121.46,290.68 121.55,290.81 121.64,290.94 121.72,291.06 121.81,291.19 121.90,291.32 121.99,291.45 122.08,291.58 122.19,291.71 122.37,291.78 122.61,291.83 122.90,291.84 123.24,291.83 123.63,291.78 124.06,291.71 124.54,291.62 124.57,291.78 124.56,291.97 124.50,292.19 124.39,292.43 124.24,292.70 124.04,292.99 123.80,293.31 123.52,293.66 123.20,294.02 122.84,294.41 122.44,294.82 122.00,295.25 121.53,295.70 121.03,296.17 120.49,296.66 119.92,297.17 120.43,297.06 120.97,296.93 121.55,296.78 122.17,296.61 122.81,296.41 123.50,296.20 124.21,295.98 124.95,295.73 125.72,295.47 126.52,295.19 127.35,294.89 128.21,294.58 129.09,294.25 130.00,293.91 130.93,293.56 131.89,293.19 131.29,293.72 130.66,294.26 130.01,294.82 129.33,295.39 128.63,295.97 127.90,296.57 127.15,297.18 126.38,297.80 125.59,298.44 124.79,299.08 123.96,299.74 123.11,300.41 122.25,301.08 121.38,301.77 120.48,302.46 119.58,303.16 120.56,302.78 121.55,302.39 122.56,301.99 123.58,301.58 124.62,301.17 125.68,300.74 126.74,300.31 127.82,299.88 128.90,299.43 130.00,298.98 131.10,298.53 132.21,298.07 133.33,297.61 134.46,297.15 135.58,296.68 136.72,296.21 135.80,296.92 134.88,297.63 133.95,298.35 133.01,299.06 132.08,299.78 131.14,300.50 130.19,301.23 129.25,301.95 128.31,302.67 127.36,303.40 126.42,304.12 125.49,304.84 124.55,305.55 123.62,306.27 122.70,306.98 121.78,307.69 122.92,307.22 124.04,306.75 125.17,306.29 126.29,305.83 127.40,305.37 128.50,304.92 129.60,304.47 130.68,304.02 131.76,303.59 132.82,303.16 133.88,302.73 134.92,302.32 135.94,301.91 136.95,301.51 137.94,301.12 138.92,300.74 138.02,301.44 137.12,302.13 136.25,302.82 135.39,303.49 134.54,304.16 133.71,304.82 132.91,305.46 132.12,306.10 131.35,306.72 130.60,307.33 129.87,307.93 129.17,308.51 128.49,309.08 127.84,309.64 127.21,310.18 126.61,310.71 127.57,310.34 128.50,309.99 129.41,309.65 130.29,309.32 131.15,309.01 131.98,308.71 132.78,308.43 133.55,308.17 134.29,307.92 135.00,307.70 135.69,307.49 136.33,307.29 136.95,307.12 137.53,306.97 138.07,306.84 138.58,306.73 138.01,307.24 137.47,307.73 136.97,308.20 136.50,308.65 136.06,309.08 135.66,309.49 135.30,309.88 134.98,310.24 134.70,310.59 134.46,310.91 134.26,311.20 134.11,311.47 134.00,311.71 133.94,311.93 133.93,312.12 133.96,312.28 134.44,312.19 134.87,312.12 135.26,312.07 135.60,312.06 135.89,312.07 136.13,312.12 136.31,312.19 136.42,312.32 136.51,312.45 136.60,312.58 136.69,312.71 136.78,312.83 136.86,312.96 136.95,313.09 137.04,313.22 137.13,313.35 137.22,313.48 137.31,313.61 137.40,313.74 137.49,313.87 137.58,314.00 137.67,314.13 137.76,314.26 137.85,314.39 137.94,314.52 138.03,314.65 138.12,314.78 138.21,314.91 138.30,315.04 138.39,315.17 138.48,315.30 138.57,315.43 138.66,315.56 138.75,315.69 138.84,315.82 138.93,315.94 139.01,316.07 139.10,316.20 139.19,316.33 139.28,316.46 139.37,316.59 139.46,316.72 139.55,316.85 139.64,316.98 139.73,317.11 139.82,317.24 139.91,317.37 140.00,317.50" fill="none" stroke="#3c64a6" stroke-width="1.9" stroke-linejoin="round"/>
<path d="M113,339.5L133,339.5" stroke="#e04020" stroke-width="1.2" stroke-dasharray="2.5,1.2"/>
<path d="M37.5,285L113,339.5" stroke="#1a1a1a" stroke-width="1"/>
<path d="M194,285L133,339.5" stroke="#1a1a1a" stroke-width="1"/>
<g clip-path="url(#insetclip)">
<rect x="37" y="195.5" width="157.5" height="89.5" fill="#e6a842"/>
<rect x="37" y="195.5" width="157.5" height="89.5" fill="url(#rings)"/>
<rect x="37" y="195.5" width="157.5" height="89.5" fill="url(#hexi)"/>
<ellipse cx="66" cy="236" rx="16" ry="12" fill="url(#glow)"/>
<ellipse cx="159" cy="238" rx="15" ry="11" fill="url(#glow)"/>
<ellipse cx="116" cy="238" rx="34" ry="28.5" fill="url(#hole)"/>
<ellipse cx="116" cy="238" rx="34" ry="28.5" fill="url(#hexi)" opacity="0.6"/>
<path d="M82.5,236 A34,28 0 0 1 149.5,234" fill="none" stroke="#6a6650" stroke-width="2" opacity="0.7"/>
<path d="M81,238 A35,29.5 0 0 1 151,238" fill="none" stroke="#f4e07a" stroke-width="1.4" opacity="0.9"/>
</g>
<rect x="37" y="195.5" width="157.5" height="89.5" fill="none" stroke="#d8a848" stroke-width="0.8"/>
<ellipse cx="67" cy="236.5" rx="4" ry="2.5" fill="#b04038" opacity="0.85"/>
<path d="M60,236.5H74" stroke="#a04040" stroke-width="0.8"/>
<ellipse cx="159" cy="237.5" rx="3.5" ry="2.4" fill="#b04038" opacity="0.85"/>
<path d="M153,237.5H166" stroke="#a04040" stroke-width="0.8"/>
<circle cx="86" cy="236" r="2.6" fill="#c03038"/>
<circle cx="183" cy="227" r="2.5" fill="#c03030"/>
<circle cx="183" cy="245" r="2.5" fill="#608060" stroke="#304030" stroke-width="0.5"/>
<path d="M166,237L176,236L182,228M176,236L182,244" stroke="#333" stroke-width="0.8" fill="none"/>
<text x="57" y="228" font-size="11" font-style="italic" font-family='"Liberation Serif", serif' font-weight="bold" fill="#1c2e78">ħω</text>
<text x="54" y="254" font-size="8.3" font-weight="bold" fill="#1c2e78">Plasmon</text>
<text x="90.5" y="234.5" font-size="8.2" font-weight="bold" fill="#1c2e78">Hot. Carrier in</text>
<text x="90.5" y="244" font-size="8.2" font-weight="bold" fill="#1c2e78">Graphene</text>
<text x="131.5" y="255.5" font-size="7.8" font-weight="bold" fill="#1c2e78">Landau Damping</text>
<text x="131.5" y="264.5" font-size="7.8" font-weight="bold" fill="#1c2e78">of Plasmon</text>
<rect x="252.5" y="287.7" width="41.5" height="46" fill="#8d7f48"/>
<ellipse cx="292" cy="272" rx="26" ry="20" fill="url(#spglow)"/>
<path d="M258,288 C258,272 266,259 280,258 C294,258 302,270 303,288 Z" fill="url(#spg)"/>
<path d="M252.5,287.7H294" stroke="#222" stroke-width="1" stroke-dasharray="3,2"/>
<path d="M252.5,215V333.7H294V215" fill="none" stroke="#111" stroke-width="1.3"/>
<path d="M260.5,319V282 C260.5,277 261.5,274 263,272" fill="none" stroke="#7c8cb8" stroke-width="1.5"/>
<text x="266" y="274.5" font-size="12.5" font-weight="bold" font-family='"Liberation Serif", serif' fill="#1c2a60">SP</text>
<text x="266" y="313.5" font-size="6.4" font-weight="bold" font-family='"Liberation Serif", serif' fill="#f4eedc">Metal</text>
<text x="255" y="299" font-size="4.5" font-family='"Liberation Serif", serif' fill="#d8d0b0">hv</text>
<text x="239" y="292" font-size="10" font-family='"Liberation Serif", serif' fill="#222">E<tspan font-size="6" dy="2">f</tspan></text>
<text x="297" y="299" font-size="13" font-style="italic" font-family='"Liberation Serif", serif' fill="#222">ħω<tspan font-size="8.5" dy="2.5">p</tspan></text>
<path d="M311.5,221 L340.3,275 L367.5,221 Z" fill="url(#cone1)"/>
<ellipse cx="339.5" cy="220.8" rx="28" ry="10.5" fill="url(#cone1top)"/>
<path d="M340.7,275 L312.2,323.5 C311.5,333 328,339.5 343,339.3 C358,339 371,334 370.4,327.5 Z" fill="#142c56"/>
<polyline points="286.30,275.30 286.45,275.21 286.60,275.11 286.75,275.02 286.91,274.92 287.06,274.83 287.21,274.73 287.36,274.64 287.51,274.54 287.66,274.45 287.81,274.35 287.96,274.26 288.12,274.17 288.27,274.07 288.42,273.98 288.57,273.88 288.72,273.79 288.87,273.69 289.02,273.60 289.17,273.50 289.32,273.41 289.48,273.31 289.63,273.22 289.78,273.12 289.93,273.03 290.08,272.94 290.23,272.84 290.38,272.75 290.54,272.65 290.71,272.60 290.93,272.62 291.10,272.55 291.21,272.38 291.26,272.13 291.26,271.79 291.23,271.41 291.20,271.02 291.18,270.65 291.20,270.36 291.30,270.17 291.48,270.12 291.76,270.23 292.13,270.48 292.58,270.87 293.09,271.36 293.64,271.89 294.18,272.42 294.67,272.88 295.09,273.20 295.39,273.35 295.55,273.27 295.56,272.95 295.42,272.40 295.16,271.63 294.78,270.70 294.35,269.66 293.90,268.61 293.49,267.62 293.17,266.77 292.99,266.15 292.99,265.81 293.18,265.78 293.58,266.08 294.17,266.69 294.92,267.55 295.78,268.60 296.71,269.74 297.63,270.87 298.47,271.88 299.18,272.68 299.70,273.18 300.00,273.32 300.05,273.06 299.85,272.41 299.44,271.41 298.84,270.12 298.13,268.64 297.36,267.08 296.62,265.57 295.99,264.22 295.53,263.14 295.29,262.43 295.33,262.15 295.64,262.31 296.22,262.91 297.05,263.89 298.06,265.16 299.18,266.63 300.35,268.15 301.46,269.60 302.45,270.84 303.23,271.75 303.75,272.26 303.99,272.30 303.92,271.86 303.57,270.96 302.98,269.67 302.20,268.09 301.32,266.34 300.41,264.56 299.57,262.88 298.89,261.45 298.42,260.37 298.23,259.72 298.34,259.56 298.75,259.89 299.45,260.67 300.39,261.83 301.49,263.26 302.69,264.84 303.89,266.42 305.00,267.86 305.96,269.05 306.68,269.87 307.12,270.24 307.27,270.14 307.12,269.57 306.71,268.58 306.08,267.23 305.30,265.65 304.45,263.95 303.61,262.28 302.87,260.76 302.30,259.50 301.96,258.62 301.87,258.15 302.07,258.12 302.53,258.53 303.24,259.32 304.13,260.40 305.14,261.69 306.20,263.04 307.23,264.35 308.15,265.50 308.92,266.38 309.47,266.93 309.79,267.10 309.86,266.88 309.70,266.29 309.35,265.39 308.84,264.25 308.25,262.97 307.64,261.65 307.07,260.40 306.60,259.31 306.27,258.46 306.13,257.89 306.19,257.65 306.44,257.72 306.88,258.07 307.45,258.66 308.13,259.41 308.87,260.24 309.60,261.08 310.28,261.83 310.87,262.43 311.33,262.84 311.65,263.02 311.83,262.97 311.87,262.69 311.79,262.23 311.63,261.63 311.41,260.95 311.18,260.25 310.98,259.59 310.83,259.01 310.75,258.56 310.77,258.24 310.88,258.08 311.07,258.04 311.32,258.12 311.63,258.27 311.95,258.45 312.27,258.62 312.56,258.75 312.80,258.80 312.99,258.77 313.12,258.63 313.22,258.46 313.37,258.37 313.53,258.27 313.68,258.18 313.83,258.09 313.98,257.99 314.13,257.90 314.28,257.80 314.43,257.71 314.58,257.61 314.74,257.52 314.89,257.42 315.04,257.33 315.19,257.23 315.34,257.14 315.49,257.05 315.64,256.95 315.79,256.86 315.95,256.76 316.10,256.67 316.25,256.57 316.40,256.48 316.55,256.38 316.70,256.29 316.85,256.19 317.00,256.10 317.16,256.00 317.31,255.91 317.46,255.82 317.61,255.72 317.76,255.63 317.91,255.53 318.06,255.44 318.21,255.34 318.37,255.25 318.52,255.15 318.67,255.06 318.82,254.96 318.97,254.87 319.12,254.78 319.27,254.68 319.42,254.59 319.58,254.49 319.73,254.40 319.88,254.30 320.03,254.21 320.18,254.11 320.33,254.02 320.48,253.92 320.63,253.83 320.79,253.73 320.94,253.64 321.09,253.55 321.24,253.45 321.39,253.36 321.54,253.26 321.69,253.17 321.84,253.07 322.00,252.98 322.15,252.88 322.30,252.79 322.45,252.69 322.60,252.60" fill="none" stroke="#b83434" stroke-width="1.2" stroke-linejoin="round"/>
<circle cx="325" cy="247" r="2.2" fill="#222"/>
<text x="373.5" y="208" font-size="13" fill="#222" class="b">(d)</text>
<path d="M477,274.5 C490,271 500,263 505,253 C508,246 510,240 511.5,232 L511.5,274.5 Z" fill="url(#bband)"/>
<path d="M480,274.5 C492,272 502,268 511.5,262 L511.5,274.5 Z" fill="#90b0d0" opacity="0.6"/>
<path d="M420.5,355.5 L484,349 L511.5,343 L511.5,372 L497,366 Z" fill="#a52c2c"/>
<path d="M466,274.5 L511.5,274.5 L511.5,373 C506,372 500,368 494,360 C486,350 480,338 476,324 C472,312 468,300 464,290 C461,283 459,279 462,276.5 C463.5,275 465,274.5 466,274.5 Z" fill="url(#gband)"/>
<path d="M494,360 C500,368 506,372 511.5,373 L511.5,343 L488,348 C490,352 492,356 494,360 Z" fill="#6a7a68" opacity="0.55"/>
<path d="M406.5,194V373.5H511.5V194Z" fill="none" stroke="#333" stroke-width="1.2"/>
<path d="M406.5,194H511.5" stroke="#333" stroke-width="1.6"/>
<path d="M407,274.4H511" stroke="#666" stroke-width="0.9" stroke-dasharray="3,2.5"/>
<text x="399" y="377" font-size="10" fill="#222">0</text>
<text x="396" y="277.5" font-size="9" fill="#222">E<tspan font-size="6" font-style="italic" dy="2.5">f</tspan></text>
<text transform="translate(392.3,311) rotate(-90)" font-size="8.8" fill="#222" textLength="28" lengthAdjust="spacingAndGlyphs">Energy</text>
<text x="457.9" y="382" font-size="9.9" font-weight="bold" text-anchor="middle" font-family='"Liberation Serif", serif' fill="#222">F(E,T)D(E)</text>
<path d="M427.8,355.5V278.3" stroke="#111" stroke-width="1.1"/>
<path d="M426.0,279.3L427.8,275.3L429.6,279.3Z" fill="#111"/>
<path d="M445,355.5V260.4" stroke="#111" stroke-width="1.1"/>
<path d="M443.2,261.4L445,257.4L446.8,261.4Z" fill="#111"/>
<path d="M464.9,351V297.5" stroke="#111" stroke-width="1.1"/>
<path d="M463.09999999999997,298.5L464.9,294.5L466.7,298.5Z" fill="#111"/>
<path d="M505.8,255V201.8" stroke="#111" stroke-width="1.1"/>
<path d="M504.0,202.8L505.8,198.8L507.6,202.8Z" fill="#111"/>
<circle cx="427.8" cy="355.5" r="1.5" fill="#300"/>
<circle cx="464.9" cy="295" r="1.3" fill="#111"/>
<text transform="translate(423.3,329.5) rotate(-90)" font-size="8.2" fill="#222" textLength="24.5" lengthAdjust="spacingAndGlyphs">2.4 eV</text>
<text transform="translate(442,344.4) rotate(-90)" font-size="7.8" fill="#222" textLength="41" lengthAdjust="spacingAndGlyphs">Pump  3.1eV</text>
<text transform="translate(460.2,346.5) rotate(-90)" font-size="7.8" fill="#222" textLength="46" lengthAdjust="spacingAndGlyphs">Probe  2.1 eV</text>
<text x="456.3" y="212.5" font-size="8.2" fill="#222" textLength="47.5" lengthAdjust="spacingAndGlyphs">Probe  1.2  eV</text>
<text x="464.4" y="223" font-size="8.2" fill="#222" textLength="38" lengthAdjust="spacingAndGlyphs">to 6p band</text>
<text x="451.6" y="251.6" font-size="10.5" fill="#222">T<tspan font-size="7" dy="2.5">e</tspan><tspan dy="-2.5" dx="0.5">&gt;T</tspan><tspan font-size="7" dy="2.5">o</tspan></text>
<path d="M478.4,251L495.8,262.6" stroke="#333" stroke-width="0.7"/>
<circle cx="496" cy="263" r="1.3" fill="#223"/>
<text x="481" y="288.8" font-size="6.3" font-weight="bold" fill="#eef4ee" textLength="19.5" lengthAdjust="spacingAndGlyphs">6s band</text>
</svg>
</body></html>
